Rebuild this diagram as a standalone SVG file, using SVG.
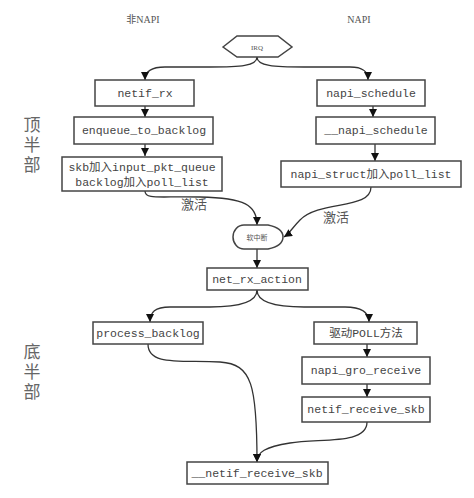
<svg xmlns="http://www.w3.org/2000/svg" width="474" height="498" viewBox="0 0 474 498">
<style>
.box{fill:#fff;stroke:#444;stroke-width:1.5}
.t{font-family:"Liberation Mono","Noto Sans CJK SC",monospace;font-size:11.5px;fill:#444;text-anchor:middle}
.lbl{font-family:"Liberation Serif","Noto Sans CJK SC",serif;fill:#555;text-anchor:middle}
.side{font-family:"Noto Sans CJK SC",serif;font-size:17px;fill:#666;writing-mode:vertical-rl;letter-spacing:3px}
.c{fill:none;stroke:#333;stroke-width:1.3;marker-end:url(#ah)}
</style>
<defs>
<marker id="ah" markerUnits="userSpaceOnUse" markerWidth="8" markerHeight="8" refX="8" refY="4" orient="auto">
<path d="M0,0 L8,4 L0,8 z" fill="#111"/>
</marker>
</defs>
<rect width="474" height="498" fill="#fff"/>
<g id="labels">
<text class="lbl" x="143" y="23" font-size="10">非NAPI</text>
<text class="lbl" x="359" y="23" font-size="10">NAPI</text>
<text class="side" x="32" y="116">顶半部</text>
<text class="side" x="32" y="343">底半部</text>
<text class="lbl" x="194" y="209" font-size="13">激活</text>
<text class="lbl" x="336" y="222" font-size="13">激活</text>
</g>
<g id="connectors">
<path class="c" d="M257 57 C257 66,240 67,210 67 L165 67 C150 67,145 72,145 80"/>
<path class="c" d="M257 57 C257 66,274 67,304 67 L350 67 C364 67,368 72,368 80"/>
<path class="c" d="M145 106 L145 117"/>
<path class="c" d="M373 106 L373 117"/>
<path class="c" d="M145 144 L145 156"/>
<path class="c" d="M375 144 L375 161"/>
<path class="c" d="M145 191 C145 200,160 196,200 197 C245 198,257 205,257 225"/>
<path class="c" d="M371 187 C371 210,320 200,300 220 C292 228,290 233,284 237"/>
<path class="c" d="M257 249 L257 268"/>
<path class="c" d="M257 290 C257 302,240 307,210 307 L170 307 C155 307,150 312,150 322"/>
<path class="c" d="M257 290 C257 302,274 307,304 307 L345 307 C362 307,369 312,369 322"/>
<path class="c" d="M367 344 L367 357"/>
<path class="c" d="M367 384 L367 397"/>
<path class="c" d="M148 344 C148 366,180 360,220 362 C252 364,257 385,257 462"/>
<path class="c" d="M367 422 C367 445,320 438,290 443 C265 447,257 452,257 462"/>
</g>
<g id="irq">
<path class="box" d="M223 47 L237 36 L278 36 L292 47 L278 57 L237 57 Z" stroke-width="1.2"/>
<text class="lbl" x="257" y="50" font-size="7">IRQ</text>
</g>
<g id="netif_rx"><rect class="box" x="95" y="80" width="99" height="26"/><text class="t" x="145" y="97">netif_rx</text></g>
<g id="napi_schedule"><rect class="box" x="317" y="80" width="108" height="26"/><text class="t" x="371" y="97">napi_schedule</text></g>
<g id="enqueue_to_backlog"><rect class="box" x="74" y="117" width="139" height="27"/><text class="t" x="144" y="134">enqueue_to_backlog</text></g>
<g id="__napi_schedule"><rect class="box" x="316" y="117" width="119" height="27"/><text class="t" x="376" y="134">__napi_schedule</text></g>
<g id="skb_box"><rect class="box" x="62" y="157" width="160" height="34"/><text class="t" x="142" y="171">skb加入input_pkt_queue</text><text class="t" x="142" y="186">backlog加入poll_list</text></g>
<g id="napi_struct"><rect class="box" x="281" y="161" width="180" height="26"/><text class="t" x="371" y="178">napi_struct加入poll_list</text></g>
<g id="softirq">
<path class="box" d="M244 225 L268 225 Q283 228 283 237 Q283 246 268 249 L244 249 A11 12 0 0 1 244 225 Z" stroke-width="1.2"/>
<text class="lbl" x="257" y="240" font-size="7">软中断</text>
</g>
<g id="net_rx_action"><rect class="box" x="207" y="268" width="101" height="22"/><text class="t" x="257" y="283">net_rx_action</text></g>
<g id="process_backlog"><rect class="box" x="93" y="322" width="110" height="22"/><text class="t" x="148" y="337">process_backlog</text></g>
<g id="poll"><rect class="box" x="314" y="322" width="103" height="22"/><text class="t" x="366" y="337">驱动POLL方法</text></g>
<g id="napi_gro_receive"><rect class="box" x="302" y="357" width="128" height="27"/><text class="t" x="366" y="374">napi_gro_receive</text></g>
<g id="netif_receive_skb"><rect class="box" x="302" y="397" width="128" height="25"/><text class="t" x="366" y="413">netif_receive_skb</text></g>
<g id="__netif_receive_skb"><rect class="box" x="187" y="462" width="141" height="22"/><text class="t" x="257" y="477">__netif_receive_skb</text></g>
</svg>
